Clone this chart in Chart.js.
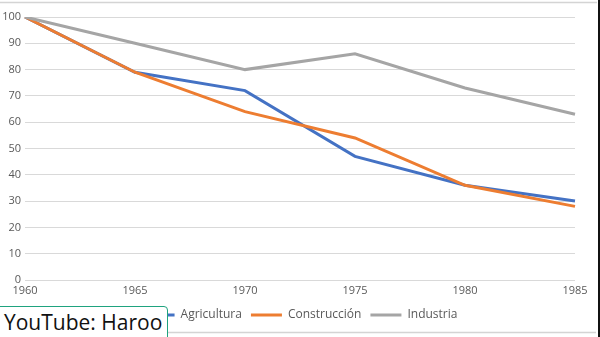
<!DOCTYPE html>
<html>
<head>
<meta charset="utf-8">
<script src="https://cdn.jsdelivr.net/npm/chart.js@4"></script>
<style>
  html, body { margin: 0; padding: 0; background: #fff; }
  #wrap { position: relative; width: 600px; height: 337px; overflow: hidden; }
  #tag {
    position: absolute; left: -1px; top: 306px; width: 169px; height: 34px;
    box-sizing: border-box; background: #fff;
    border: 1px solid #1fa37f; border-top-right-radius: 4px;
    font-family: "Open Sans", sans-serif; font-size: 21px; color: #111;
    padding-left: 4px; line-height: 30px; white-space: nowrap;
  }
</style>
</head>
<body>
<div id="wrap">
  <canvas id="c" width="600" height="337"></canvas>
  <div id="tag">YouTube: Haroo</div>
</div>
<script>
// Años del eje X
const years = ['1960', '1965', '1970', '1975', '1980', '1985'];

// Índices por sector (1960 = 100)
const agricultura  = [100, 79, 72, 47, 36, 30];
const construccion = [100, 79, 64, 54, 36, 28];
const industria    = [100, 90, 80, 86, 73, 63];

const tickFont = { family: '"Open Sans", sans-serif', size: 11 };
const legendFont = { family: '"Open Sans", sans-serif', size: 12 };
const tickColor = '#595959';

// Marco fino alrededor del lienzo
const framePlugin = {
  id: 'frame',
  afterDraw(chart) {
    const ctx = chart.ctx;
    ctx.save();
    ctx.strokeStyle = '#d4d4d4';
    ctx.lineWidth = 1.5;
    ctx.beginPath();
    ctx.moveTo(0, 2.5); ctx.lineTo(597, 2.5);
    ctx.moveTo(168, 332.5); ctx.lineTo(596, 332.5);
    ctx.stroke();
    ctx.strokeStyle = '#111';
    ctx.lineWidth = 2;
    ctx.beginPath();
    ctx.moveTo(599, 0); ctx.lineTo(599, 337);
    ctx.stroke();
    ctx.restore();
  }
};

// Centra la leyenda en todo el ancho del lienzo
const legendShift = {
  id: 'legendShift',
  afterLayout(chart) {
    const lg = chart.legend;
    if (lg) { lg.left += 13; lg.right += 13; }
  }
};

// order: Industria arriba, Agricultura debajo
const line = (label, data, color, order) => ({
  label, data, order,
  borderColor: color, backgroundColor: color,
  borderWidth: 3, pointRadius: 0, tension: 0, fill: false
});

new Chart(document.getElementById('c'), {
  type: 'line',
  data: {
    labels: years,
    datasets: [
      line('Agricultura', agricultura, '#4472c4', 3),
      line('Construcción', construccion, '#ed7d31', 2),
      line('Industria', industria, '#a5a5a5', 1)
    ]
  },
  options: {
    responsive: false,
    animation: false,
    layout: { padding: { top: 17, right: 25, bottom: 6, left: 0 } },
    plugins: {
      tooltip: { enabled: false },
      legend: {
        position: 'bottom',
        labels: {
          usePointStyle: true,
          pointStyle: 'line',
          pointStyleWidth: 31,
          padding: 9,
          color: tickColor,
          font: legendFont,
          sort: (a, b) => a.datasetIndex - b.datasetIndex
        }
      }
    },
    scales: {
      x: {
        type: 'category',
        offset: false,
        grid: { display: false, drawTicks: false },
        border: { display: false },
        ticks: { color: tickColor, font: tickFont, padding: 4, maxRotation: 0, autoSkip: false },
        afterFit(s) { s.height = 20; }
      },
      y: {
        min: 0, max: 100,
        grid: { color: '#d9d9d9', lineWidth: 1, drawTicks: false },
        border: { display: false },
        ticks: { stepSize: 10, color: tickColor, font: tickFont, padding: 4 },
        afterFit(s) { s.width = 25; }
      }
    }
  },
  plugins: [framePlugin, legendShift]
});
</script>
</body>
</html>
